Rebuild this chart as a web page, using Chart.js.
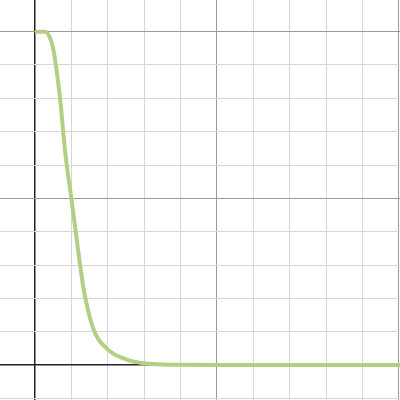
<!DOCTYPE html>
<html>
<head>
<meta charset="utf-8">
<script src="https://cdn.jsdelivr.net/npm/chart.js@4"></script>
<style>
  html, body { margin: 0; padding: 0; background: #fff; }
  #wrap { width: 400px; height: 400px; }
</style>
</head>
<body>
<div id="wrap"><canvas id="c"></canvas></div>
<script>
// ===== DATA =====
const xs = [0, 0.15, 0.28, 0.4, 0.5, 0.6, 0.69, 0.83, 1.0, 1.15, 1.33, 1.6, 2.0, 2.5, 3.0, 3.4, 4.0, 5, 6, 7, 8, 9, 10.1];
const ys = [1, 1, 1, 0.985, 0.95, 0.88, 0.80, 0.64, 0.50, 0.375, 0.233, 0.11, 0.047, 0.017, 0.005, 0.002, 0.0005, 0, 0, 0, 0, 0, 0];
const xGrid = [0, 1, 2, 3, 4, 5, 6, 7, 8, 9, 10];
const yGrid = [-0.1, 0, 0.1, 0.2, 0.3, 0.4, 0.5, 0.6, 0.7, 0.8, 0.9, 1.0];

new Chart(document.getElementById('c'), {
  type: 'line',
  data: {
    datasets: [{
      data: xs.map((x, i) => ({ x, y: ys[i] })),
      borderColor: '#b3cf85',
      borderWidth: 4,
      pointRadius: 0,
      cubicInterpolationMode: 'monotone',
      fill: false
    }]
  },
  options: {
    responsive: true,
    maintainAspectRatio: false,
    animation: false,
    layout: { padding: 0 },
    plugins: { legend: { display: false }, tooltip: { enabled: false } },
    scales: {
      x: {
        type: 'linear', min: -0.96, max: 10.03,
        afterBuildTicks: s => { s.ticks = xGrid.map(v => ({ value: v })); },
        ticks: { display: false },
        border: { display: false },
        grid: {
          drawTicks: false,
          color: c => c.tick.value === 0 ? '#222' : (c.tick.value % 5 === 0 ? '#999' : '#d6d6d6'),
          lineWidth: c => c.tick.value === 0 ? 1.5 : 1
        }
      },
      y: {
        min: -0.105, max: 1.095,
        afterBuildTicks: s => { s.ticks = yGrid.map(v => ({ value: v })); },
        ticks: { display: false },
        border: { display: false },
        grid: {
          drawTicks: false,
          color: c => {
            const v = Math.round(c.tick.value * 10);
            return v === 0 ? '#222' : (v % 5 === 0 ? '#999' : '#d6d6d6');
          },
          lineWidth: c => Math.round(c.tick.value * 10) === 0 ? 1.5 : 1
        }
      }
    }
  }
});
</script>
</body>
</html>
